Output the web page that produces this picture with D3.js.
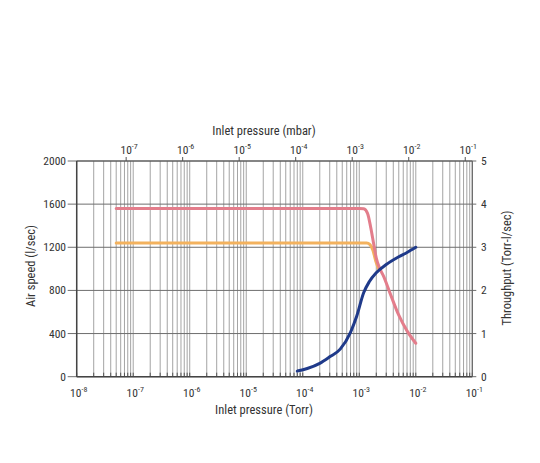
<!DOCTYPE html>
<html><head><meta charset="utf-8">
<script src="https://cdn.jsdelivr.net/npm/d3@7"></script>
<style>
body{margin:0;background:#fff}
text{font-family:"Liberation Sans Narrow","Arial Narrow","Roboto Condensed",sans-serif;fill:#333}
</style>
</head><body>
<svg id="c" width="540" height="463"></svg>
<script>
// ---- data ----
const pinkP = [5e-8, 1e-3, 1.2e-3, 1.4e-3, 1.6e-3, 1.8e-3, 2.0e-3, 2.3e-3, 2.7e-3, 3.5e-3, 5e-3, 7e-3, 1e-2];
const pinkV = [1560, 1560, 1557, 1515, 1380, 1230, 1100, 1005, 930, 775, 570, 425, 310];
const orangeP = [5e-8, 1.35e-3, 1.55e-3, 1.75e-3, 1.95e-3, 2.2e-3];
const orangeV = [1240, 1240, 1225, 1170, 1075, 1000];
const blueP = [8e-5, 1.2e-4, 2e-4, 3e-4, 4.6e-4, 7e-4, 9e-4, 1.2e-3, 1.5e-3, 2e-3, 3e-3, 5e-3, 7e-3, 1e-2];
const blueV = [0.13, 0.19, 0.31, 0.46, 0.64, 1.03, 1.4, 1.95, 2.2, 2.41, 2.6, 2.78, 2.88, 3.0];
const leftTicks = [0, 400, 800, 1200, 1600, 2000];
const rightTicks = [0, 1, 2, 3, 4, 5];
const torrExp = [-8, -7, -6, -5, -4, -3, -2, -1];
const mbarExp = [-7, -6, -5, -4, -3, -2, -1];
const MBAR_PER_TORR = 1.33322;

// ---- layout ----
const L = 76.7, R = 472.3, T = 161, B = 376.7;
const svg = d3.select("#c");
const x = d3.scaleLog().domain([1e-8, 1e-1]).range([L, R]);
const xTop = d3.scaleLog().domain([1e-8 * MBAR_PER_TORR, 1e-1 * MBAR_PER_TORR]).range([L, R]);
const yL = d3.scaleLinear().domain([0, 2000]).range([B, T]);
const yR = d3.scaleLinear().domain([0, 5]).range([B, T]);

// minor vertical grid
const minor = [];
for (let e = -8; e < -1; e++) for (let m = 1; m <= 9; m++) minor.push(m * Math.pow(10, e));
minor.push(1e-1);
svg.append("g").selectAll("line").data(minor).join("line")
  .attr("x1", d => x(d)).attr("x2", d => x(d)).attr("y1", T).attr("y2", B)
  .attr("stroke", "#9a9a9a").attr("stroke-width", 0.9);
// horizontal grid (extends as outer ticks)
svg.append("g").selectAll("line").data(leftTicks).join("line")
  .attr("x1", L - 9).attr("x2", R + 4).attr("y1", d => yL(d)).attr("y2", d => yL(d))
  .attr("stroke", "#6e6e6e").attr("stroke-width", 1);
// bottom small ticks
svg.append("g").selectAll("line").data(minor).join("line")
  .attr("x1", d => x(d)).attr("x2", d => x(d)).attr("y1", B).attr("y2", B - 4)
  .attr("stroke", "#555").attr("stroke-width", 1);
// top ticks (mbar majors)
svg.append("g").selectAll("line").data(mbarExp).join("line")
  .attr("x1", d => xTop(Math.pow(10, d))).attr("x2", d => xTop(Math.pow(10, d)))
  .attr("y1", T).attr("y2", T - 4).attr("stroke", "#555");
// frame
svg.append("line").attr("x1", L).attr("x2", R).attr("y1", T).attr("y2", T).attr("stroke", "#555").attr("stroke-width", 1.2);
svg.append("line").attr("x1", L).attr("x2", R).attr("y1", B).attr("y2", B).attr("stroke", "#444").attr("stroke-width", 1.5);
svg.append("line").attr("x1", L).attr("x2", L).attr("y1", T).attr("y2", B).attr("stroke", "#444").attr("stroke-width", 1.5);
svg.append("line").attr("x1", R).attr("x2", R).attr("y1", T).attr("y2", B).attr("stroke", "#666").attr("stroke-width", 1.2);

// y labels
svg.append("g").selectAll("text").data(leftTicks).join("text")
  .attr("x", 66).attr("y", d => yL(d) + 4).attr("text-anchor", "end").attr("font-size", 11.5).text(d => d);
svg.append("g").selectAll("text").data(rightTicks).join("text")
  .attr("x", 481).attr("y", d => yR(d) + 4).attr("text-anchor", "start").attr("font-size", 11.5).text(d => d);

// power-of-ten labels
function powLabel(g, px, py, e) {
  const t = g.append("text").attr("x", px).attr("y", py).attr("text-anchor", "middle").attr("font-size", 11.5);
  t.append("tspan").text("10");
  t.append("tspan").attr("dy", -5).attr("font-size", 8).text(String(e));
}
const gb = svg.append("g");
torrExp.forEach(e => powLabel(gb, x(Math.pow(10, e)) + 2, 397, e));
const gt = svg.append("g");
mbarExp.forEach(e => powLabel(gt, xTop(Math.pow(10, e)) + 3, 154, e));

// titles
svg.append("text").attr("x", 264).attr("y", 414).attr("text-anchor", "middle").attr("font-size", 12.5).text("Inlet pressure (Torr)");
svg.append("text").attr("x", 264).attr("y", 135).attr("text-anchor", "middle").attr("font-size", 12.5).text("Inlet pressure (mbar)");
svg.append("text").attr("transform", "translate(35,266) rotate(-90)").attr("text-anchor", "middle").attr("font-size", 12.5).text("Air speed (l/sec)");
svg.append("text").attr("transform", "translate(511,268) rotate(-90)").attr("text-anchor", "middle").attr("font-size", 12.5).text("Throughput (Torr-l/sec)");

// series
const lineL = d3.line().x(d => x(d[0])).y(d => yL(d[1])).curve(d3.curveMonotoneX);
const lineR = d3.line().x(d => x(d[0])).y(d => yR(d[1])).curve(d3.curveMonotoneX);
svg.append("path").attr("d", lineL(d3.zip(orangeP, orangeV))).attr("fill", "none")
  .attr("stroke", "#f3b25e").attr("stroke-width", 3).attr("stroke-linecap", "round");
svg.append("path").attr("d", lineL(d3.zip(pinkP, pinkV))).attr("fill", "none")
  .attr("stroke", "#e37d8b").attr("stroke-width", 3).attr("stroke-linecap", "round");
svg.append("path").attr("d", lineR(d3.zip(blueP, blueV))).attr("fill", "none")
  .attr("stroke", "#1f3a8a").attr("stroke-width", 3).attr("stroke-linecap", "round");
</script>
</body></html>
